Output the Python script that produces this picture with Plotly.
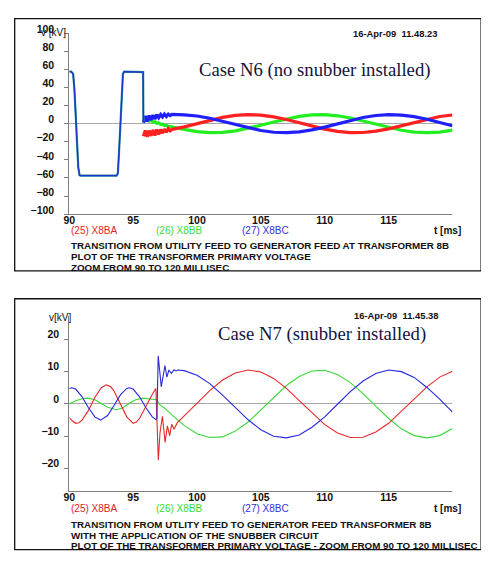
import plotly.graph_objects as go

# page body has an 8px margin; the figure is sized to fill the rest of the 489x561 window
OFF = 8
W, H = 489 - OFF, 561 - OFF

# ---------------- data: top panel (Case N6) ----------------
top_pulse_t = [90.0, 90.15, 90.3, 90.4, 90.5, 90.6, 90.7, 90.8, 90.9, 93.7, 93.8, 93.9,
               94.0, 94.1, 94.2, 94.3, 95.7, 95.78, 95.8]
top_pulse_v = [57.5, 57.5, 55, 38, 10, -22, -48, -57, -57.5, -57.5, -55, -30,
               0, 30, 55, 57.5, 57.5, 57, 2]

top_t = [95.8, 95.95, 96.1, 96.25, 96.4, 96.55, 96.7, 96.85, 97.0, 97.15, 97.3, 97.45,
         97.6, 97.75, 97.9, 98.05,
         99, 100, 101, 102, 103, 104, 105, 106, 107, 108, 109, 110, 111, 112, 113,
         114, 115, 116, 117, 118, 119, 120]
top_red = [-14, -7.5, -14.5, -7.5, -13.5, -7, -13, -6.5, -12, -6.5, -10.5, -6,
           -9.5, -5.5, -8.0, -6.3,
           -3.5, 0.2, 3.9, 7.0, 9.1, 10.0, 9.4, 7.5, 4.6, 1.0, -2.7, -6.1, -8.6, -9.9, -9.8,
           -8.3, -5.7, -2.2, 1.5, 5.0, 7.9, 9.6]
top_green = [5, 3.5, 5, 3, 3.5, 1.8, 2.2, 0.5, 1, -0.8, -0.6, -2.2,
             -1.8, -3.4, -3, -3.6,
             -6.4, -8.8, -9.9, -9.7, -8.0, -5.3, -1.8, 1.9, 5.4, 8.1, 9.7, 9.9, 8.7, 6.3, 3.0,
             -0.7, -4.3, -7.3, -9.3, -10.0, -9.3, -7.2]
top_blue = [1, 8.5, 2.5, 9, 4, 9.5, 5, 10, 6.5, 10, 7.5, 10.5,
            8, 10.5, 9, 10.2,
            9.8, 8.5, 6.0, 2.6, -1.1, -4.7, -7.6, -9.5, -10.0, -9.1, -6.9, -3.8, -0.1, 3.6, 6.8,
            9.0, 10.0, 9.5, 7.8, 4.9, 1.4, -2.4]

# ---------------- data: bottom panel (Case N7) ----------------
bot_red_t = [90.0, 90.25, 90.5, 90.75, 91.0, 91.5, 92.0, 92.5, 92.9, 93.25, 93.5, 94.0,
             94.5, 95.0, 95.25, 95.5, 96.0, 96.5, 96.78,
             96.97, 97.1, 97.29, 97.5, 97.68, 97.86, 98.02, 98.2, 98.46,
             99, 100, 101, 102, 103, 104, 105, 106, 107, 108, 109, 110, 111, 112, 113,
             114, 115, 116, 117, 118, 119, 120]
bot_red_v = [-4.2, -5.3, -6.0, -5.8, -5.0, -2.0, 2.0, 5.0, 5.9, 5.3, 4.0, 0.2,
             -4.0, -6.0, -5.6, -4.5, -0.6, 3.0, 4.8,
             -17.4, -9.0, -3.8, -11.9, -6.8, -9.8, -6.3, -7.8, -5.8,
             -3.7, 0.2, 4.1, 7.4, 9.6, 10.5, 9.9, 7.9, 4.8, 1.05, -2.8, -6.4, -9.0, -10.4, -10.3,
             -8.7, -6.0, -2.3, 1.6, 5.3, 8.3, 10.1]

bot_green_t = [90.0, 90.5, 91.0, 91.45, 92.0, 92.5, 93.0, 93.7, 94.2, 94.7, 95.2, 95.75,
               96.3, 96.85, 97.1, 97.5, 98.0, 98.5,
               99, 100, 101, 102, 103, 104, 105, 106, 107, 108, 109, 110, 111, 112, 113,
               114, 115, 116, 117, 118, 119, 120]
bot_green_v = [0.0, 1.0, 1.6, 1.8, 1.3, 0.2, -1.0, -1.8, -1.2, 0.2, 1.3, 1.8,
               1.6, 1.3, -0.3, -1.4, -3.3, -5.1,
               -6.7, -9.2, -10.4, -10.2, -8.4, -5.6, -1.9, 2.0, 5.7, 8.5, 10.2, 10.4, 9.1, 6.6, 3.2,
               -0.7, -4.5, -7.7, -9.8, -10.5, -9.8, -7.6]

bot_blue_t = [90.0, 90.2, 90.5, 91.0, 91.5, 92.0, 92.45, 93.0, 93.5, 94.0, 94.5, 94.7,
              95.0, 95.5, 96.0, 96.5, 96.8, 96.86,
              96.96, 97.2, 97.49, 97.64, 97.8, 97.99, 98.2, 98.35, 98.5,
              99, 100, 101, 102, 103, 104, 105, 106, 107, 108, 109, 110, 111, 112, 113,
              114, 115, 116, 117, 118, 119, 120]
bot_blue_v = [4.8, 5.0, 4.6, 2.2, -1.2, -4.0, -5.0, -3.6, -0.5, 2.8, 4.8, 5.0,
              4.6, 2.2, -1.2, -4.0, -4.9, -4.5,
              14.9, 5.3, 11.9, 8.3, 10.5, 9.5, 10.6, 10.2, 10.5,
              10.3, 8.9, 6.3, 2.7, -1.2, -4.9, -8.0, -10.0, -10.5, -9.6, -7.2, -4.0, -0.1, 3.8, 7.1,
              9.45, 10.5, 10.0, 8.2, 5.1, 1.5, -2.5]

x_ticks = [90, 95, 100, 105, 110, 115]
top_y_ticks = [-100, -80, -60, -40, -20, 0, 20, 40, 60, 80, 100]
bot_y_ticks = [-20, -10, 0, 10, 20]

series_names = ["(25) X8BA", "(26) X8BB", "(27) X8BC"]
top_stamp = "16-Apr-09\u00a0\u00a011.48.23"
bot_stamp = "16-Apr-09\u00a0\u00a011.45.38"
top_title = "Case N6 (no snubber installed)"
bot_title = "Case N7 (snubber installed)"
top_desc = ["TRANSITION FROM UTILITY FEED TO GENERATOR FEED AT TRANSFORMER 8B",
            "PLOT OF THE TRANSFORMER PRIMARY VOLTAGE",
            "ZOOM FROM 90 TO 120 MILLISEC"]
bot_desc = ["TRANSITION FROM UTLITY FEED TO GENERATOR FEED TRANSFORMER 8B",
            "WITH THE APPLICATION OF THE SNUBBER CIRCUIT",
            "PLOT OF THE TRANSFORMER PRIMARY VOLTAGE - ZOOM FROM 90 TO 120 MILLISEC"]

# ---------------- styling ----------------
RED_T, GREEN_T, BLUE_T = "#ff2020", "#22ee22", "#2020ff"
RED_B, GREEN_B, BLUE_B = "#e82828", "#3ad83a", "#2828e0"
LEG_COLORS = ["#e02424", "#33dd33", "#3030e0"]
SANS = "Liberation Sans"
SERIF = "Liberation Serif"
AXC = "#808080"


def fx(px):
    return (px - OFF) / W


def fy(py):
    return 1 - (py - OFF) / H


fig = go.Figure()

# top panel
fig.add_trace(go.Scatter(x=top_t, y=top_green, mode="lines", xaxis="x", yaxis="y",
                         line=dict(color=GREEN_T, width=3.2)))
fig.add_trace(go.Scatter(x=top_t, y=top_red, mode="lines", xaxis="x", yaxis="y",
                         line=dict(color=RED_T, width=3.2)))
fig.add_trace(go.Scatter(x=top_t, y=top_blue, mode="lines", xaxis="x", yaxis="y",
                         line=dict(color=BLUE_T, width=3.2)))
fig.add_trace(go.Scatter(x=top_pulse_t, y=top_pulse_v, mode="lines", xaxis="x", yaxis="y",
                         line=dict(color="#2a8c9c", width=2.2)))
fig.add_trace(go.Scatter(x=top_pulse_t, y=top_pulse_v, mode="lines", xaxis="x", yaxis="y",
                         line=dict(color="#1c34d0", width=1.3)))

# bottom panel
fig.add_trace(go.Scatter(x=bot_green_t, y=bot_green_v, mode="lines", xaxis="x2", yaxis="y2",
                         line=dict(color=GREEN_B, width=1.1)))
fig.add_trace(go.Scatter(x=bot_red_t, y=bot_red_v, mode="lines", xaxis="x2", yaxis="y2",
                         line=dict(color=RED_B, width=1.1)))
fig.add_trace(go.Scatter(x=bot_blue_t, y=bot_blue_v, mode="lines", xaxis="x2", yaxis="y2",
                         line=dict(color=BLUE_B, width=1.1)))

tickfont = dict(family=SANS, size=10.5, color="#111111", weight="bold")
xdom = [fx(64), fx(452)]
common_x = dict(range=[90, 120], tickvals=x_ticks, showline=True, linecolor=AXC, linewidth=1,
                ticks="", showgrid=False, zeroline=False, tickfont=tickfont, domain=xdom,
                ticklabelstandoff=-4)
fig.update_layout(
    width=W, height=H, margin=dict(l=0, r=0, t=0, b=0),
    paper_bgcolor="white", plot_bgcolor="white", showlegend=False,
    xaxis=dict(anchor="y", **common_x),
    xaxis2=dict(anchor="y2", **common_x),
    yaxis=dict(anchor="x", domain=[fy(208.5), fy(23.5)], range=[-100, 100], tickvals=top_y_ticks,
               showline=True, linecolor=AXC, linewidth=1, ticks="outside", ticklen=4,
               tickcolor=AXC, showgrid=False, zeroline=True, zerolinecolor="#a8a8a8",
               zerolinewidth=1, tickfont=tickfont, ticklabelshift=-4, ticklabelstandoff=8),
    yaxis2=dict(anchor="x2", domain=[fy(492), fy(313)], range=[-27.1, 27.1], tickvals=bot_y_ticks,
                showline=True, linecolor=AXC, linewidth=1, ticks="outside", ticklen=4,
                tickcolor=AXC, showgrid=False, zeroline=True, zerolinecolor="#a8a8a8",
                zerolinewidth=1, tickfont=tickfont, ticklabelshift=-5, ticklabelstandoff=3),
)

# frames
for y0, y1 in [(8.7, 266.5), (295, 551.5)]:
    fig.add_shape(type="rect", xref="paper", yref="paper", x0=fx(8.7), x1=fx(481),
                  y0=fy(y1), y1=fy(y0), line=dict(color="#111111", width=1.3),
                  fillcolor="rgba(0,0,0,0)", layer="above")

ann = []


def text(x, y, s, size=9.8, color="#111111", family=SANS, weight="bold"):
    ann.append(dict(x=fx(x), y=fy(y), xref="paper", yref="paper", text=s, showarrow=False,
                    xanchor="left", yanchor="middle", borderpad=0,
                    font=dict(family=family, size=size, color=color, weight=weight)))


# top panel texts
text(350, 23.5, top_stamp, size=9.4)
text(194, 61, top_title, size=18.7, color="#14143c", family=SERIF, weight="normal")
text(34, 23, "v [kV]", size=10, weight="normal")
for x0, name, c in zip([65, 151, 238], series_names, LEG_COLORS):
    text(x0, 225, name, size=10, color=c, weight="normal")
text(432, 225.5, "t [ms]", size=10)
for i, line in enumerate(top_desc):
    text(65, 241 + 11 * i, line)

# bottom panel texts
text(351, 312, bot_stamp, size=9.4)
text(214, 330.5, bot_title, size=18.7, color="#14143c", family=SERIF, weight="normal")
text(42, 314, "v[kV]", size=10, weight="normal")
for x0, name, c in zip([65, 151, 238], series_names, LEG_COLORS):
    text(x0, 509, name, size=10, color=c, weight="normal")
text(432, 509.5, "t [ms]", size=10)
for i, line in enumerate(bot_desc):
    text(65, 526 + 10.6 * i, line)

fig.update_layout(annotations=ann)
fig.write_html("out.html")
